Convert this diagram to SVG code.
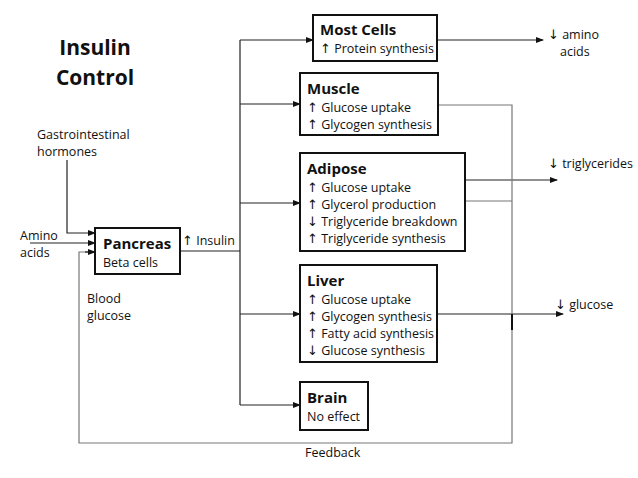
<svg xmlns="http://www.w3.org/2000/svg" width="638" height="478" viewBox="0 0 638 478">
<style>
text{font-family:"Open Sans","Liberation Sans",sans-serif;font-size:12.5px;fill:#111}
.h{font-weight:bold;font-size:15px}
.t{font-weight:bold;font-size:21px}
.ar{font-family:"DejaVu Sans",sans-serif;font-size:13px}
.box{fill:#fff;stroke:#111;stroke-width:2}
.c{fill:none;stroke:#222;stroke-width:1.2}
.g{fill:none;stroke:#777;stroke-width:1.2}
</style>
<defs><marker id="a" markerWidth="8" markerHeight="6" refX="7" refY="3" orient="auto" markerUnits="userSpaceOnUse"><path d="M0,0L8,3L0,6z" fill="#111"/></marker></defs>
<rect width="638" height="478" fill="#fff"/>
<text class="t" x="95" y="55" text-anchor="middle">Insulin</text>
<text class="t" x="95" y="85" text-anchor="middle">Control</text>
<text x="37" y="139">Gastrointestinal</text>
<text x="37" y="156">hormones</text>
<text x="20" y="240">Amino</text>
<text x="20" y="257">acids</text>
<text x="87" y="303">Blood</text>
<text x="87" y="320">glucose</text>
<text x="182" y="245"><tspan class="ar">↑</tspan> Insulin</text>
<text x="305" y="457">Feedback</text>
<text x="548" y="39"><tspan class="ar">↓</tspan> amino</text>
<text x="560" y="56">acids</text>
<text x="548" y="168"><tspan class="ar">↓</tspan> triglycerides</text>
<text x="555" y="309"><tspan class="ar">↓</tspan> glucose</text>
<g id="connectors">
<polyline class="c" points="67,160 67,233 95,233" marker-end="url(#a)"/>
<line class="c" x1="30" y1="243" x2="95" y2="243" marker-end="url(#a)"/>
<polyline class="c" points="180,251 240,251"/>
<line class="c" x1="240" y1="40" x2="240" y2="405"/>
<line class="c" x1="240" y1="40" x2="313" y2="40" marker-end="url(#a)"/>
<line class="c" x1="240" y1="104" x2="300" y2="104" marker-end="url(#a)"/>
<line class="c" x1="240" y1="203" x2="300" y2="203" marker-end="url(#a)"/>
<line class="c" x1="240" y1="314" x2="300" y2="314" marker-end="url(#a)"/>
<line class="c" x1="240" y1="405" x2="300" y2="405" marker-end="url(#a)"/>
<line class="c" x1="437" y1="40" x2="543" y2="40" marker-end="url(#a)"/>
<line class="c" x1="465" y1="180" x2="557" y2="180" marker-end="url(#a)"/>
<line class="c" x1="437" y1="314" x2="563" y2="314" marker-end="url(#a)"/>
<polyline class="g" points="438,105 512,105 512,443 79,443 79,252 95,252"/>
<line class="g" x1="465" y1="201" x2="512" y2="201"/>
<line x1="512" y1="314" x2="512" y2="330" stroke="#111" stroke-width="2"/>
<line class="c" x1="85" y1="252" x2="95" y2="252" marker-end="url(#a)"/>
</g>
<g id="pancreas"><rect class="box" x="95" y="228" width="85" height="46"/><text class="h" x="103" y="249">Pancreas</text><text x="103" y="267">Beta cells</text></g>
<g id="most-cells"><rect class="box" x="313" y="15" width="124" height="46"/><text class="h" x="320" y="35">Most Cells</text><text x="320" y="53"><tspan class="ar">↑</tspan> Protein synthesis</text></g>
<g id="muscle"><rect class="box" x="300" y="73" width="138" height="62"/><text class="h" x="307" y="94">Muscle</text><text x="307" y="112"><tspan class="ar">↑</tspan> Glucose uptake</text><text x="307" y="129"><tspan class="ar">↑</tspan> Glycogen synthesis</text></g>
<g id="adipose"><rect class="box" x="300" y="153" width="165" height="98"/><text class="h" x="307" y="174">Adipose</text><text x="307" y="192"><tspan class="ar">↑</tspan> Glucose uptake</text><text x="307" y="209"><tspan class="ar">↑</tspan> Glycerol production</text><text x="307" y="226"><tspan class="ar">↓</tspan> Triglyceride breakdown</text><text x="307" y="243"><tspan class="ar">↑</tspan> Triglyceride synthesis</text></g>
<g id="liver"><rect class="box" x="300" y="265" width="137" height="97"/><text class="h" x="307" y="286">Liver</text><text x="307" y="304"><tspan class="ar">↑</tspan> Glucose uptake</text><text x="307" y="321"><tspan class="ar">↑</tspan> Glycogen synthesis</text><text x="307" y="338"><tspan class="ar">↑</tspan> Fatty acid synthesis</text><text x="307" y="355"><tspan class="ar">↓</tspan> Glucose synthesis</text></g>
<g id="brain"><rect class="box" x="300" y="382" width="68" height="48"/><text class="h" x="307" y="403">Brain</text><text x="307" y="421">No effect</text></g>
</svg>
